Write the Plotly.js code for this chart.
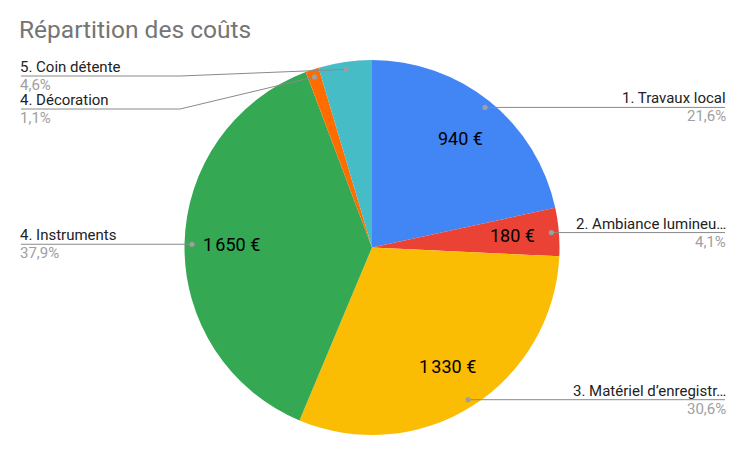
<!DOCTYPE html>
<html>
<head>
<meta charset="utf-8">
<script src="https://cdn.plot.ly/plotly-3.0.1.min.js"></script>
<style>
  html, body { margin: 0; padding: 0; background: #fff; }
  #chart { width: 744px; height: 456px; }
</style>
</head>
<body>
<div id="chart"></div>
<script>
// chart data
const labels = ['1. Travaux local', '2. Ambiance lumineu…', '3. Matériel d’enregistr…', '4. Instruments', '4. Décoration', '5. Coin détente'];
const values = [940, 180, 1330, 1650, 50, 200];
const colors = ['#4285f4', '#ea4335', '#fbbc04', '#34a853', '#ff6d01', '#46bdc6'];

const W = 744, H = 456;
const mt = 60, mb = 21;
const cx = W / 2, cy = mt + (H - mt - mb) / 2, R = (H - mt - mb) / 2;

const px = x => x / W;
const py = y => (H - mb - y) / (H - mt - mb);

const total = values.reduce((a, b) => a + b, 0);
const fmtEuro = v => String(v).replace(/\B(?=(\d{3})+(?!\d))/g, '\u202f') + ' €';
const fmtPct = v => (v / total * 100).toFixed(1).replace('.', ',') + '%';

const valSize = 18, labSize = 15;
const shapes = [];
const annotations = [];
const left = [], right = [];

let acc = 0;
values.forEach((v, i) => {
  const half = v / total * Math.PI;
  const mid = (acc + v / 2) / total * 2 * Math.PI;   // clockwise from 12 o'clock
  acc += v;
  const sx = Math.sin(mid), sy = -Math.cos(mid);
  // value inside the slice, only when it fits across the slice
  const txt = fmtEuro(v);
  const tw = txt.length * 0.55 * valSize, th = valSize;
  const across = tw * Math.abs(Math.cos(mid)) + th * Math.abs(Math.sin(mid));
  const room = 2 * 0.75 * R * Math.sin(Math.min(half, Math.PI / 2));
  if (across < room) {
    annotations.push({
      x: px(cx + 0.75 * R * sx), y: py(cy + 0.75 * R * sy), xref: 'paper', yref: 'paper',
      xanchor: 'center', yanchor: 'middle',
      text: txt, showarrow: false, font: { family: 'Roboto', size: valSize, color: '#000' }
    });
  }
  const dot = { i, x: cx + 0.96 * R * sx, y: cy + 0.96 * R * sy };
  (sx >= 0 ? right : left).push(dot);
});

// keep outside labels apart
function place(list) {
  list.sort((a, b) => a.y - b.y);
  let prev = -Infinity;
  list.forEach(d => {
    d.ly = Math.max(d.y, 76, prev + 33);
    prev = d.ly;
  });
}
place(left);
place(right);

function addLabel(d, side) {
  const edge = side === 'left' ? 21 : W - 19;
  const elbow = side === 'left' ? 180 : W - 180;
  let path = `M${px(d.x)},${py(d.y)} `;
  if (Math.abs(d.ly - d.y) > 0.5) path += `L${px(elbow)},${py(d.ly)} `;
  path += `L${px(edge)},${py(d.ly)}`;
  shapes.push({ type: 'path', xref: 'paper', yref: 'paper', path, line: { color: '#8a8a8a', width: 1 } });
  const r = 2.6;
  shapes.push({
    type: 'circle', xref: 'paper', yref: 'paper',
    x0: px(d.x - r), x1: px(d.x + r), y0: py(d.y + r), y1: py(d.y - r),
    fillcolor: '#9e9e9e', line: { width: 0 }
  });
  const anchor = side === 'left' ? 'left' : 'right';
  const shift = side === 'left' ? -2 : 2;
  annotations.push({
    x: px(edge), y: py(d.ly), xref: 'paper', yref: 'paper', xanchor: anchor, yanchor: 'bottom',
    xshift: shift, yshift: -1,
    text: labels[d.i], showarrow: false, borderpad: 0,
    font: { family: 'Roboto', size: labSize, color: '#222222' }
  });
  annotations.push({
    x: px(edge), y: py(d.ly), xref: 'paper', yref: 'paper', xanchor: anchor, yanchor: 'top',
    xshift: shift, yshift: 1,
    text: fmtPct(values[d.i]), showarrow: false, borderpad: 0,
    font: { family: 'Roboto', size: labSize, color: '#a0a0a0' }
  });
}
left.forEach(d => addLabel(d, 'left'));
right.forEach(d => addLabel(d, 'right'));

const trace = {
  type: 'pie',
  labels: labels,
  values: values,
  sort: false,
  direction: 'clockwise',
  rotation: 0,
  textinfo: 'none',
  hoverinfo: 'label+value+percent',
  marker: { colors: colors, line: { color: '#ffffff', width: 0 } }
};

const layout = {
  width: W,
  height: H,
  margin: { l: 0, r: 0, t: mt, b: mb },
  showlegend: false,
  paper_bgcolor: '#ffffff',
  font: { family: 'Roboto' },
  title: {
    text: 'Répartition des coûts',
    xref: 'container', yref: 'container',
    x: 19 / W, xanchor: 'left',
    y: 1 - 29 / H, yanchor: 'middle',
    font: { family: 'Roboto', size: 24.5, color: '#757575' }
  },
  shapes: shapes,
  annotations: annotations
};

Plotly.newPlot('chart', [trace], layout, { displayModeBar: false, staticPlot: true });
</script>
</body>
</html>
